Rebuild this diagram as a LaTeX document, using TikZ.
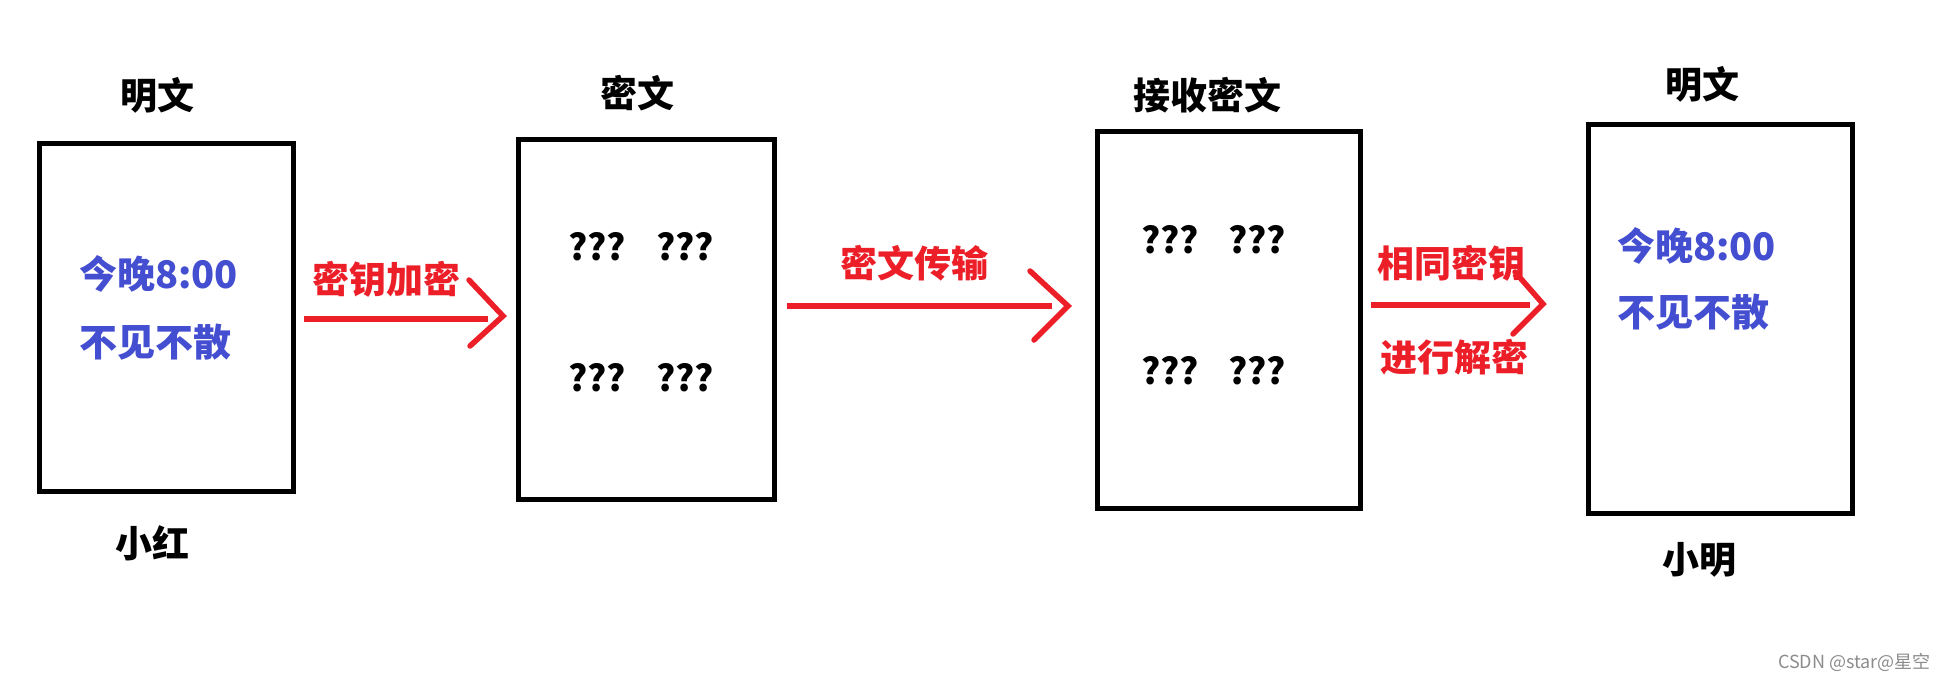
\documentclass[tikz,border=0pt]{standalone}
\usepackage{fontspec}
\newfontfamily\cjk{Noto Sans CJK SC}
\definecolor{arrred}{RGB}{236,30,40}
\definecolor{txtblue}{RGB}{68,78,208}
\definecolor{wmgray}{RGB}{140,140,140}
\begin{document}
\begin{tikzpicture}[x=1pt,y=-1pt,
  box/.style={draw=black,line width=5.5pt,inner sep=0pt},
  lbl/.style={font=\cjk\bfseries\fontsize{37}{44}\selectfont,inner sep=0pt,text=black},
  redlbl/.style={font=\cjk\bfseries\fontsize{37}{44}\selectfont,inner sep=0pt,text=arrred},
  bluetxt/.style={font=\cjk\bfseries\fontsize{38}{44}\selectfont,inner sep=0pt,text=txtblue,anchor=west},
  qq/.style={font=\cjk\bfseries\fontsize{36}{44}\selectfont,inner sep=0pt,text=black},
  redline/.style={draw=arrred,line width=6pt},
  chev/.style={draw=arrred,line width=5.5pt,line cap=round,line join=miter}]
\useasboundingbox (0,0) rectangle (1944,678);
\fill[white] (0,0) rectangle (1944,678);
% boxes
\node[box,minimum width=254,minimum height=348] (b1) at (166.5,317.5) {};
\node[box,minimum width=256,minimum height=360] (b2) at (646.5,319.5) {};
\node[box,minimum width=263,minimum height=377] (b3) at (1229,320) {};
\node[box,minimum width=264,minimum height=389] (b4) at (1720.5,319) {};
% titles
\node[lbl] (t1) at (157,95) {明文};
\node[lbl] (t2) at (637,93) {密文};
\node[lbl] (t3) at (1207,95) {接收密文};
\node[lbl] (t4) at (1702,84) {明文};
\node[lbl] (n1) at (152,543) {小红};
\node[lbl] (n2) at (1699,560) {小明};
% plain text
\node[bluetxt] (p1a) at (79,274) {今晚8:00};
\node[bluetxt] (p1b) at (79,342) {不见不散};
\node[bluetxt] (p4a) at (1617,246) {今晚8:00};
\node[bluetxt] (p4b) at (1617,312) {不见不散};
% cipher text
\node[qq] (q21) at (597,247) {???};
\node[qq] (q22) at (685,247) {???};
\node[qq] (q23) at (597,378) {???};
\node[qq] (q24) at (685,378) {???};
\node[qq] (q31) at (1170,240) {???};
\node[qq] (q32) at (1257,240) {???};
\node[qq] (q33) at (1170,371) {???};
\node[qq] (q34) at (1257,371) {???};
% arrow 1
\coordinate (a1s) at (304,319);
\coordinate (a1e) at (488,319);
\coordinate (a1t) at (503,316);
\draw[redline] (a1s) -- (a1e);
\draw[chev] (469,280) -- (a1t) -- (470,346);
\node[redlbl] (l1) at (386,279) {密钥加密};
% arrow 2
\coordinate (a2s) at (787,306);
\coordinate (a2e) at (1052,306);
\coordinate (a2t) at (1068,306);
\draw[redline] (a2s) -- (a2e);
\draw[chev] (1030,271) -- (a2t) -- (1034,340);
\node[redlbl] (l2) at (914,263) {密文传输};
% arrow 3
\coordinate (a3s) at (1371,305);
\coordinate (a3e) at (1530,305);
\coordinate (a3t) at (1543,304);
\draw[redline] (a3s) -- (a3e);
\draw[chev] (1515,272) -- (a3t) -- (1513,334);
\node[redlbl] (l3) at (1451,263) {相同密钥};
\node[redlbl] (l4) at (1454,357) {进行解密};
% watermark
\node[font=\cjk\fontsize{18}{20}\selectfont,text=wmgray,inner sep=0pt,anchor=east] (wm) at (1931,662) {CSDN @star@星空};
\end{tikzpicture}
\end{document}
